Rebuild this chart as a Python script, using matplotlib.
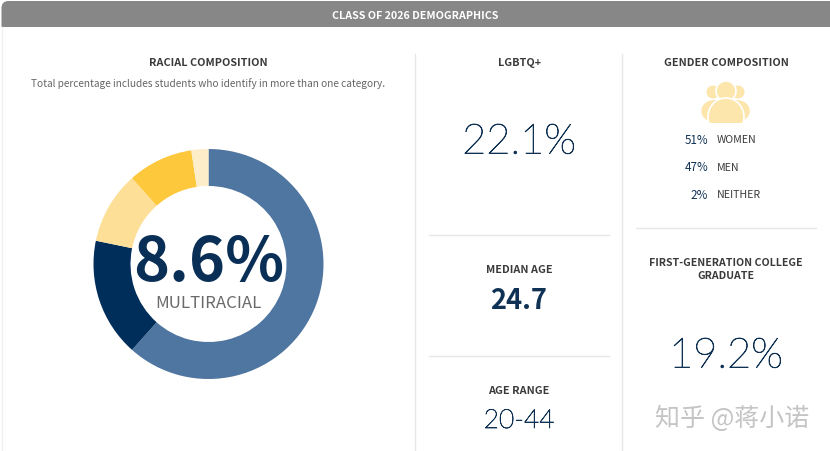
import matplotlib
matplotlib.use("Agg")
import matplotlib.pyplot as plt
import matplotlib.patheffects as pe
from matplotlib.patches import Circle, Ellipse, FancyBboxPatch, Rectangle

W, H = 830, 452

race_shares = [61.7, 16.7, 10.2, 9.2, 2.4]
race_colors = ["#4F76A0", "#002E5B", "#FDDF97", "#FEC83C", "#FDEDC8"]

gender_pcts = ["51%", "47%", "2%"]
gender_labels = ["WOMEN", "MEN", "NEITHER"]

plt.rcParams["font.family"] = ["Noto Sans CJK SC", "DejaVu Sans"]

NAVY = "#0F3154"
DARK = "#3A3A3A"
GREY = "#666666"
LINE = "#E8E8E8"
ICON = "#FCE6AC"
HEADER = "#878787"


def Y(py):
    return H - py


def label(x, y, s, size=7.8, color=DARK, weight="bold", ha="center"):
    ax.text(x, Y(y + 2.2), s, fontsize=size, color=color, fontweight=weight,
            ha=ha, va="center")


def thin(x, y, s, size, stroke=0.55):
    # the installed Lato light is a hairline, so thicken it a little
    ax.text(x, Y(y), s, fontsize=size, color=NAVY, fontweight="light", family="Lato",
            ha="center", va="center",
            path_effects=[pe.withStroke(linewidth=stroke, foreground=NAVY)])


fig = plt.figure(figsize=(W / 100, H / 100), dpi=100, facecolor="white")
ax = fig.add_axes([0, 0, 1, 1])
ax.set_xlim(0, W)
ax.set_ylim(0, H)
ax.axis("off")

# card and header
ax.add_patch(FancyBboxPatch((1.5, Y(60)), W + 20, 58, boxstyle="round,pad=0,rounding_size=7",
                            linewidth=0, facecolor=HEADER))
ax.add_patch(Rectangle((0, 0), W, Y(28), linewidth=0, facecolor="white"))
ax.plot([1.5, 1.5], [0, Y(28)], color="#F0F0F0", lw=1)
label(415, 14, "CLASS OF 2026 DEMOGRAPHICS", size=7.7, color="white")

# dividers
ax.plot([415, 415], [0, Y(55)], color=LINE, lw=1)
ax.plot([622, 622], [0, Y(55)], color=LINE, lw=1)
ax.plot([429, 609], [Y(235.5), Y(235.5)], color=LINE, lw=1)
ax.plot([429, 609], [Y(356.5), Y(356.5)], color=LINE, lw=1)
ax.plot([636, 816], [Y(228.5), Y(228.5)], color=LINE, lw=1)

# left panel
label(208.5, 61, "RACIAL COMPOSITION")
label(208.5, 81, "Total percentage includes students who identify in more than one category.",
      size=7.26, color=GREY, weight="normal")

cx, cy, ro, ri = 208.5, 265, 115, 78
pie_ax = fig.add_axes([(cx - ro) / W, (H - cy - ro) / H, 2 * ro / W, 2 * ro / H])
pie_ax.pie(race_shares, colors=race_colors, startangle=90, counterclock=False, radius=1,
           wedgeprops=dict(width=1 - ri / ro, linewidth=0))
pie_ax.set_xlim(-1, 1)
pie_ax.set_ylim(-1, 1)
pie_ax.patch.set_alpha(0)

# text on top of the pie
top = fig.add_axes([0, 0, 1, 1], facecolor="none")
top.set_xlim(0, W)
top.set_ylim(0, H)
top.axis("off")
top.text(208.5, Y(263), "8.6%", fontsize=44, fontweight="bold", color="#0A2F57", ha="center", va="center")
top.text(208.5, Y(303), "MULTIRACIAL", fontsize=12.1, color="#6A6A6A", ha="center", va="center")

# middle panel
label(519, 61, "LGBTQ+")
thin(519, 143.5, "22.1%", 30)
label(519, 268, "MEDIAN AGE")
label(519, 299, "24.7", size=19.6, color=NAVY)
label(519, 389, "AGE RANGE")
thin(519, 422, "20-44", 19, stroke=0.5)

# right panel
label(726, 61, "GENDER COMPOSITION")

# people icon, flat along the bottom
clip = Rectangle((690, Y(124)), 72, 50, transform=ax.transData)
for dx in (-13, 12):
    ax.add_patch(Circle((726 + dx, Y(93)), 6.5, facecolor=ICON, edgecolor="none"))
    ax.add_patch(Ellipse((726 + dx * 0.9, Y(112)), 26, 22, facecolor=ICON, edgecolor="none"))
ax.add_patch(Circle((726, Y(92)), 10, facecolor=ICON, edgecolor="white", lw=1.2, zorder=3))
body = Ellipse((726, Y(118)), 36, 38, facecolor=ICON, edgecolor="white", lw=1.2, zorder=3)
ax.add_patch(body)
body.set_clip_path(clip)

for i, (pct, name) in enumerate(zip(gender_pcts, gender_labels)):
    y = 138 + i * 27.5
    label(708, y, pct, size=8.4, color=NAVY, weight="normal", ha="right")
    label(717, y, name, size=7.6, color=DARK, weight="normal", ha="left")

label(726, 260.5, "FIRST-GENERATION COLLEGE", size=7.6)
label(726, 273.5, "GRADUATE", size=7.6)
thin(726, 357.5, "19.2%", 30)

# watermark
top.text(732.5, Y(419), "知乎 @蒋小诺", fontsize=18, color="#C4C4C4", ha="center", va="center")

fig.savefig("out.png", dpi=100)
